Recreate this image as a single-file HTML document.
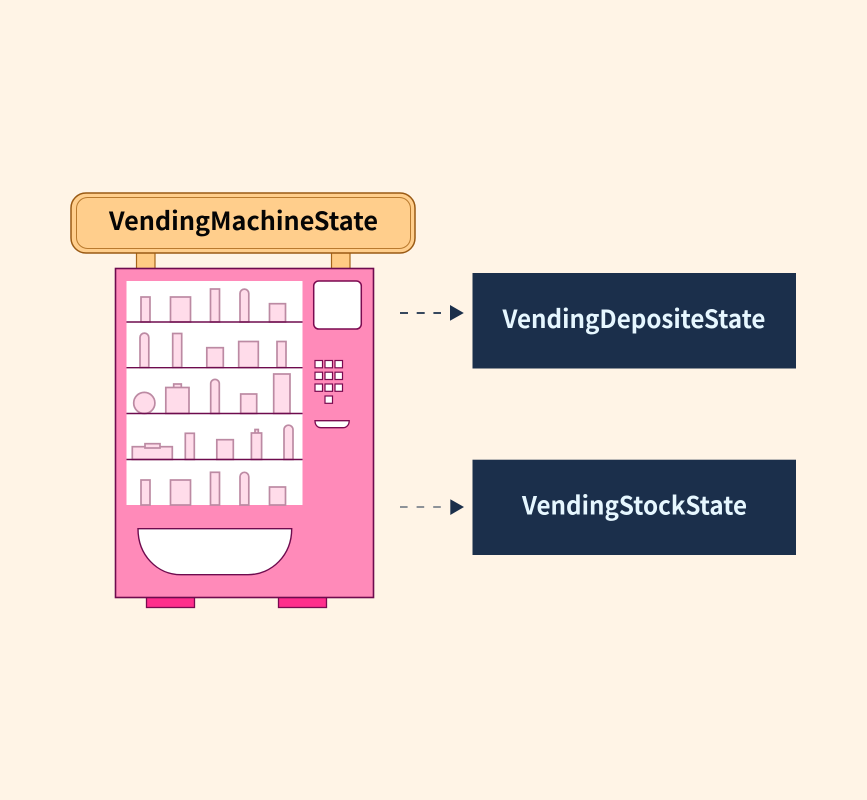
<!DOCTYPE html>
<html><head><meta charset="utf-8">
<style>
html,body{margin:0;padding:0;background:#FFF4E6}
svg{display:block}
text{font-family:"Noto Sans CJK KR","Noto Sans CJK JP","Liberation Sans",sans-serif;font-weight:700;text-anchor:middle}
</style></head>
<body>
<svg width="867" height="800" viewBox="0 0 867 800" xmlns="http://www.w3.org/2000/svg">
<rect width="867" height="800" fill="#FFF4E6"/>
<!-- posts -->
<g fill="#FFCB84" stroke="#A5651A" stroke-width="1.2">
<rect x="136.5" y="252" width="18.5" height="17"/>
<rect x="331.5" y="252" width="18.5" height="17"/>
</g>
<!-- sign -->
<rect x="71" y="193" width="344" height="60" rx="15" fill="#FFCE8C" stroke="#9A5A14" stroke-width="1.5"/>
<rect x="76.5" y="197.5" width="334" height="51" rx="11" fill="none" stroke="#B97A2E" stroke-width="1"/>
<text x="243.5" y="230" font-size="25" fill="#050505" textLength="269" lengthAdjust="spacingAndGlyphs">VendingMachineState</text>
<!-- feet -->
<g fill="#FF2E8C" stroke="#7A0A50" stroke-width="1.3">
<rect x="146.5" y="597" width="48" height="10.5"/>
<rect x="278.5" y="597" width="48" height="10.5"/>
</g>
<!-- body -->
<rect x="115.5" y="268.5" width="258" height="329" fill="#FF8AB9" stroke="#6E0B4E" stroke-width="1.6"/>
<!-- window -->
<rect x="126.5" y="281" width="176" height="224" fill="#fff"/>
<!-- items -->
<g fill="#FFDCEA" stroke="#BC8AA3" stroke-width="1.7">
<!-- row1 -->
<rect x="141" y="297" width="9" height="25"/>
<rect x="170.5" y="297" width="20" height="25"/>
<rect x="210.5" y="289" width="9" height="33"/>
<path d="M240 322V293.5a4.4 4.4 0 0 1 8.8 0V322Z"/>
<rect x="269.5" y="303.7" width="16" height="18.3"/>
<!-- row2 -->
<path d="M140 367.5V337.5a4.4 4.4 0 0 1 8.8 0V367.5Z"/>
<rect x="172.7" y="333.5" width="9" height="34"/>
<rect x="206.8" y="347.7" width="16.5" height="19.8"/>
<rect x="238.7" y="341.5" width="19.6" height="26"/>
<rect x="277" y="341.5" width="9" height="26"/>
<!-- row3 -->
<circle cx="144.3" cy="403" r="10.6"/>
<rect x="173.7" y="384" width="7.6" height="4"/>
<rect x="165.8" y="387.5" width="23.2" height="26"/>
<path d="M210.7 413.5V383.7a4.3 4.3 0 0 1 8.6 0V413.5Z"/>
<rect x="240.7" y="394" width="16" height="19.5"/>
<rect x="273.7" y="374" width="16.3" height="39.5"/>
<!-- row4 -->
<rect x="132.3" y="446.7" width="40" height="12.8"/>
<rect x="145" y="443.7" width="15" height="4.3"/>
<rect x="185.3" y="433.3" width="9" height="26.2"/>
<rect x="216.8" y="439.7" width="16.5" height="19.8"/>
<rect x="255" y="429.5" width="3.3" height="4"/>
<rect x="251.4" y="433" width="10.2" height="26.5"/>
<path d="M284 459.5V429.7a4.5 4.5 0 0 1 9 0V459.5Z"/>
<!-- row5 -->
<rect x="141" y="480" width="9" height="25"/>
<rect x="170.5" y="480" width="20" height="25"/>
<rect x="210.5" y="472.3" width="9" height="32.7"/>
<path d="M240 505V476.7a4.4 4.4 0 0 1 8.8 0V505Z"/>
<rect x="269.5" y="487" width="16" height="18"/>
</g>
<!-- shelves -->
<g stroke="#6E0B4E" stroke-width="1.4">
<line x1="126.5" y1="322" x2="302.5" y2="322"/>
<line x1="126.5" y1="367.7" x2="302.5" y2="367.7"/>
<line x1="126.5" y1="413.5" x2="302.5" y2="413.5"/>
<line x1="126.5" y1="459.5" x2="302.5" y2="459.5"/>
</g>
<!-- screen -->
<rect x="313.7" y="281" width="47.6" height="48" rx="5" fill="#fff" stroke="#7A0A50" stroke-width="1.5"/>
<!-- keypad -->
<g fill="#fff" stroke="#7A0A50" stroke-width="1.2">
<rect x="315" y="360.5" width="7.5" height="7.3"/><rect x="325" y="360.5" width="7.5" height="7.3"/><rect x="335" y="360.5" width="7.5" height="7.3"/>
<rect x="315" y="372.2" width="7.5" height="7.3"/><rect x="325" y="372.2" width="7.5" height="7.3"/><rect x="335" y="372.2" width="7.5" height="7.3"/>
<rect x="315" y="384" width="7.5" height="7.3"/><rect x="325" y="384" width="7.5" height="7.3"/><rect x="335" y="384" width="7.5" height="7.3"/>
<rect x="325" y="396" width="7.5" height="7.3"/>
</g>
<!-- slot -->
<path d="M315 420.7H349.2C349.2 425 346.5 427.7 343 427.7H321C317.5 427.7 315 425 315 420.7Z" fill="#fff" stroke="#7A0A50" stroke-width="1.3"/>
<!-- tray -->
<path d="M138 528.7H291.7C291.7 555 272 574.7 248 574.7H181C157 574.7 138 555 138 528.7Z" fill="#fff" stroke="#6E0B4E" stroke-width="1.4"/>
<!-- arrows -->
<g stroke="#1B2F4B">
<line x1="400" y1="313" x2="441" y2="313" stroke-width="1.7" stroke-dasharray="8 8.7"/>
<line x1="400" y1="507" x2="441.5" y2="507" stroke-width="1.1" stroke-dasharray="7.6 9"/>
</g>
<g fill="#1B2F4B">
<path d="M450 305V320.7L463.8 313Z"/>
<path d="M450.3 499.3V515L464 507Z"/>
</g>
<!-- boxes -->
<rect x="472.5" y="273" width="323.5" height="95.5" fill="#1B2F4B"/>
<rect x="472.5" y="459.7" width="323.5" height="95.3" fill="#1B2F4B"/>
<text x="634" y="328" font-size="25" fill="#E6F7FF" textLength="263" lengthAdjust="spacingAndGlyphs">VendingDepositeState</text>
<text x="634.5" y="514.5" font-size="25" fill="#E6F7FF" textLength="225" lengthAdjust="spacingAndGlyphs">VendingStockState</text>
</svg>
</body></html>
